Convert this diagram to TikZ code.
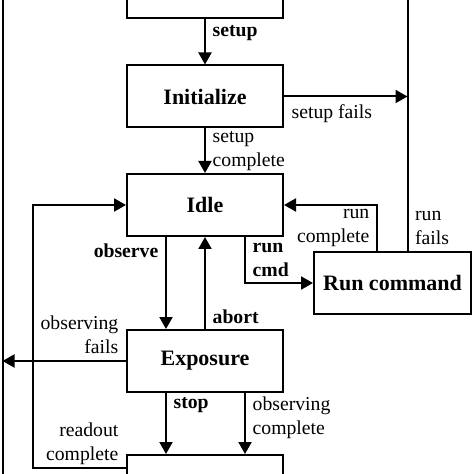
\documentclass[tikz,border=0pt]{standalone}
\usepackage{fontspec}
\setmainfont{Liberation Serif}
\usetikzlibrary{arrows.meta}

\begin{document}
\begin{tikzpicture}[
    x=0.5pt, y=-0.5pt,
    line width=1pt,
    >={Triangle[length=6pt,width=6.5pt]},
    state/.style={rectangle, draw, minimum width=78pt, minimum height=31pt,
        inner sep=0pt, font=\fontsize{11}{13}\selectfont\bfseries},
    lab/.style={align=left, font=\fontsize{9.85}{12}\selectfont},
    blab/.style={lab, font=\fontsize{9.85}{12}\selectfont\bfseries}
]
\useasboundingbox (0,0) rectangle (474,474);
\clip (0,0) rectangle (474,474);

\node [state] (boot) at (205,-13) {};
\node [state] (init) at (205,96.5) {Initialize};
\node [state] (idle) at (205,205) {Idle};
\node [state] (expo) at (205,361) {Exposure};
\node [state] (readout) at (205,486) {};
\node [state, minimum width=78.5pt] (run) at (392.5,283) {Run command};

\coordinate (topr) at (407.5,-40);
\coordinate (topl) at (2.5,-40);
\coordinate (botl) at (2.5,520);
\coordinate (rc) at (377,205);

% outer fail line
\draw (run.north -| topr)
    -- node[lab, right] {run\\fails} ++(0,-47)
    -- (topr) -- (topl) -- (botl);

\draw[->] (boot) -- node[blab, right, pos=0.3] {setup} (init);
\draw[->] (init) -- node[lab, right] {setup\\complete} (idle);
\draw[->] (init.east) -- node[lab, below right, pos=0] {setup fails} (init.east -| topr);

\draw[->] (run.north -| rc) -- node[lab, left, align=right] {run\\complete} (rc) -- (idle.east);
\draw[->] ([xshift=20pt]idle.south) |- node[blab, right, pos=0.25] {run\\cmd} (run);

\draw[->] ([xshift=-19.5pt]idle.south) -- node[blab, left, pos=0.15] {observe}
    ([xshift=-19.5pt]expo.north);
\draw[->] (expo) -- node[blab, right, pos=0.13] {abort} (idle);
\draw[->] (expo) -- node[lab, above left, pos=0, align=right] {observing\\fails} (expo -| topl);

\draw[->] ([xshift=-19.5pt]expo.south) -- node[blab, right, pos=0.2] {stop}
    ([xshift=-19.5pt]readout.north);
\draw[->] ([xshift=20pt]expo.south) -- node[lab, right, pos=0.4] {observing\\complete}
    ([xshift=20pt]readout.north);
\draw[->] ([yshift=-7pt]readout.north west)
    -- node[lab, above left, pos=0, align=right, inner ysep=1pt] {readout\\complete} ++(-93,0)
    |- (idle);
\end{tikzpicture}
\end{document}
